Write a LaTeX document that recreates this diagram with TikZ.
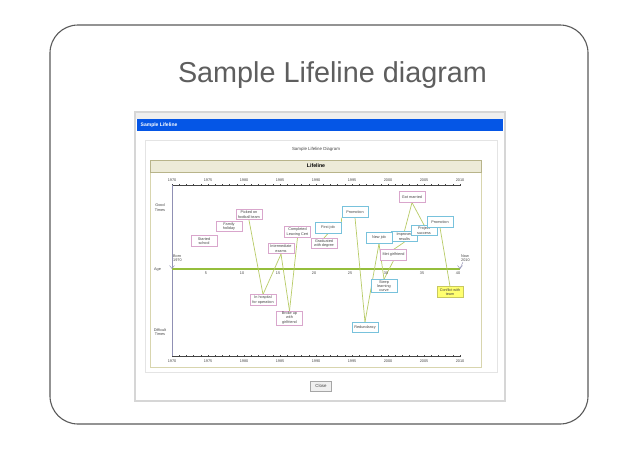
\documentclass[tikz,border=0pt]{standalone}
\usepackage{fontspec}
\setmainfont{Liberation Sans}
\definecolor{frame}{HTML}{5A5A5A}
\definecolor{titlec}{HTML}{5E5E5E}
\definecolor{winbd}{HTML}{D6D6D6}
\definecolor{wintop}{HTML}{EFEFEF}
\definecolor{barblue}{HTML}{0556E6}
\definecolor{panelbd}{HTML}{E4E4E4}
\definecolor{chartbd}{HTML}{D8D5AE}
\definecolor{headfill}{HTML}{EDEBD8}
\definecolor{headbd}{HTML}{B8B48A}
\definecolor{txt}{HTML}{444444}
\definecolor{pinkc}{HTML}{D9A6CC}
\definecolor{bluec}{HTML}{78C2DC}
\definecolor{yellowf}{HTML}{FFFF70}
\definecolor{yellowd}{HTML}{C8C860}
\definecolor{linkc}{HTML}{B8CB66}
\definecolor{agec}{HTML}{95BE3C}
\definecolor{axisc}{HTML}{9090B4}
\pgfdeclarelayer{bg}
\pgfdeclarelayer{lines}
\pgfsetlayers{bg,lines,main}
\tikzset{
  evbase/.style={fill=white, line width=0.6pt, text=txt, align=center,
    font=\fontsize{3.8}{4.3}\selectfont, inner sep=0.8pt,
    minimum width=26pt, minimum height=10.5pt},
  evpink/.style={evbase, draw=pinkc},
  evblue/.style={evbase, draw=bluec},
  evyellow/.style={evbase, draw=yellowd, fill=yellowf},
  link/.style={draw=linkc, line width=0.7pt},
  small/.style={text=txt, font=\fontsize{3.8}{4.3}\selectfont, inner sep=0pt, align=center},
}
\begin{document}
\begin{tikzpicture}[x=1pt,y=-1pt]
\useasboundingbox (0,0) rectangle (638,451);
\begin{pgfonlayer}{bg}
\fill[white] (0,0) rectangle (638,451);
\draw[frame, line width=1.1pt, rounded corners=28pt] (50,25) rectangle (588,424);
% window
\draw[winbd, fill=white, line width=1.2pt] (135,112) rectangle (505,401);
\fill[wintop] (136,113) rectangle (504,119);
\fill[barblue] (137,119) rectangle (503,131);
% panel
\draw[panelbd, line width=0.8pt] (145,140) rectangle (497,372);
% chart
\draw[chartbd, line width=0.9pt] (150,160) rectangle (481,367);
\draw[headbd, fill=headfill, line width=0.6pt] (150,160) rectangle (481,172);
% axes
\draw[txt, line width=0.5pt] (172,185) -- (460,185);
\draw[txt, line width=0.5pt] (172,356) -- (460,356);
\foreach \i in {0,...,40} {
  \draw[txt, line width=0.45pt] ({172+7.2*\i},184) -- ++(0,2.2);
  \draw[txt, line width=0.45pt] ({172+7.2*\i},357) -- ++(0,-2.2);
}
\draw[axisc, line width=1pt] (172,185) -- (172,356);
\draw[agec, line width=1.3pt] (172,269) -- (460,269);
% markers
\draw[axisc, line width=0.5pt] (169.5,265.5) -- (172,268.5) -- (174.5,265.5);
\draw[axisc, line width=0.5pt] (457.5,265.5) -- (460,268.5) -- (462.5,265.5);
\draw[axisc, line width=0.4pt] (460,268.5) -- (463,262);
\end{pgfonlayer}

% texts
\node[text=titlec, font=\fontsize{28.8}{30}\selectfont, anchor=base, inner sep=0pt] (title) at (332.5,82) {Sample Lifeline diagram};
\node[text=white, font=\fontsize{5}{6}\bfseries, anchor=west, inner sep=0pt] (bar) at (140.5,125.3) {Sample Lifeline};
\node[text=txt, font=\fontsize{4.4}{5}\selectfont, inner sep=0pt] (sub) at (316,149) {Sample Lifeline Diagram};
\node[text=black, font=\fontsize{5.2}{6}\bfseries, inner sep=0pt] (head) at (316,166) {Lifeline};

\foreach \y [count=\k from 0] in {1970,1975,1980,1985,1990,1995,2000,2005,2010} {
  \node[small] (ty\k) at ({172+36*\k},180) {\y};
  \node[small] (by\k) at ({172+36*\k},361.5) {\y};
}
\foreach \a [count=\k] in {5,10,15,20,25,30,35,40} {
  \node[small] (ag\k) at ({170+36*\k},273) {\a};
}
\node[small] (good) at (160,207.5) {Good\\Times};
\node[small] (diff) at (160,332) {Difficult\\Times};
\node[small] (age) at (157.5,270) {Age};
\node[small, align=left, anchor=west] (born) at (173,258) {Born\\1970};
\node[small, align=left, anchor=west] (now) at (461,258) {Now\\2010};

% events
\node[evpink] (school) at (204,241) {Started\\school};
\node[evpink] (holiday) at (229,226.5) {Family\\holiday};
\node[evpink] (picked) at (249,214.5) {Picked on\\football team};
\node[evpink] (cert) at (297.5,232) {Completed\\Leaving Cert};
\node[evpink] (inter) at (281,248.5) {Intermediate\\exams};
\node[evpink] (grad) at (324,243.5) {Graduated\\with degree};
\node[evblue] (first) at (328,228) {First job};
\node[evblue] (promo) at (355,212) {Promotion};
\node[evpink] (married) at (412,197) {Got married};
\node[evblue] (improved) at (404.5,236.5) {Improved\\results};
\node[evblue] (project) at (424,230.5) {Project\\success};
\node[evblue] (promob) at (440,222) {Promotion};
\node[evblue] (newjob) at (379,238) {New job};
\node[evpink] (metgf) at (393.5,255) {Met girlfriend};
\node[evpink] (hospital) at (263,300) {In hospital\\for operation};
\node[evpink] (broke) at (289.5,318) {Broke up\\with\\girlfriend};
\node[evblue] (steep) at (384,286) {Steep\\learning\\curve};
\node[evblue] (redund) at (365,327.5) {Redundancy};
\node[evyellow] (conflict) at (450,292) {Conflict with\\team};

\node[draw=gray!70, fill=gray!12, text=txt, font=\fontsize{4.4}{5}\selectfont, minimum width=21pt, minimum height=10pt, inner sep=0pt] (close) at (321,386) {Close};

\begin{pgfonlayer}{lines}
\draw[link] (picked.south) -- (hospital.north);
\draw[link] (hospital.north) -- (inter.south);
\draw[link] (inter.south) -- (broke.north);
\draw[link] (broke.north) -- (cert.south);
\draw[link] (grad.north) -- (first.south);
\draw[link] (first.north east) -- (promo.south west);
\draw[link] (promo.south) -- (redund.north);
\draw[link] (redund.north) -- (newjob.south);
\draw[link] (newjob.south) -- (steep.north);
\draw[link] (steep.north) -- (metgf.south);
\draw[link] (metgf.north) -- (improved.south);
\draw[link] (improved.north) -- (married.south);
\draw[link] (married.south) -- (project.north);
\draw[link] (promob.south) -- (conflict.north);
\end{pgfonlayer}
\end{tikzpicture}
\end{document}
